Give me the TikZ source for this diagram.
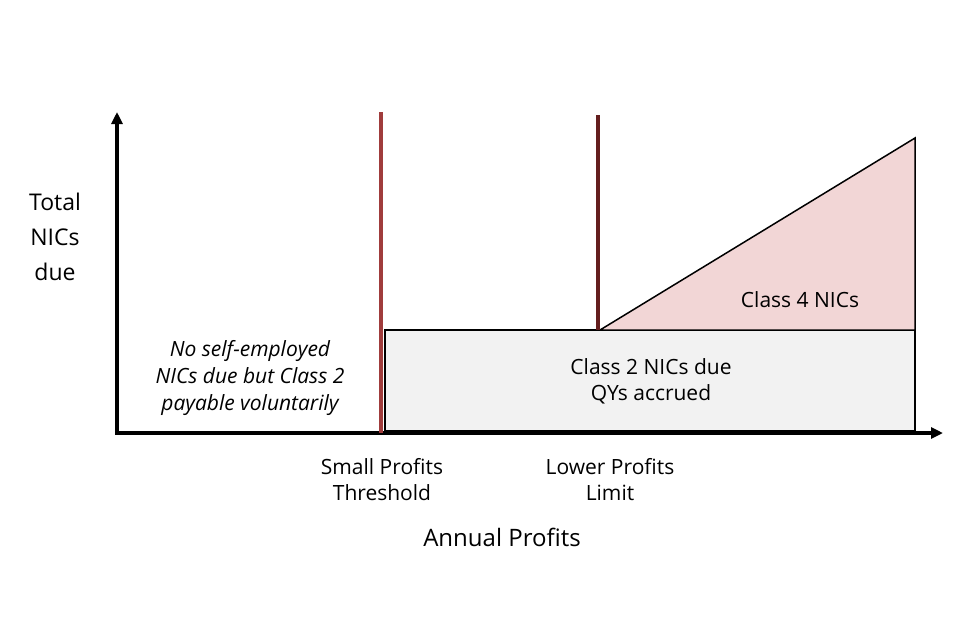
\documentclass[tikz,border=0pt]{standalone}
\usepackage{fontspec}
\setmainfont{Open Sans}
\usetikzlibrary{arrows.meta}
\definecolor{sptred}{RGB}{160,60,60}
\definecolor{lpldark}{RGB}{100,30,30}
\definecolor{pinkfill}{RGB}{242,214,214}
\begin{document}
\begin{tikzpicture}[x=1pt,y=-1pt,
  lbl/.style={align=center,font=\fontsize{21}{26}\selectfont},
  axis/.style={line width=3.5pt,-{Triangle[length=12pt,width=11pt]}}]
\useasboundingbox (0,0) rectangle (960,640);
\coordinate (o) at (117,433);
\coordinate (ytop) at (117,112);
\coordinate (xend) at (943,433);
\coordinate (b1) at (385,330); \coordinate (b2) at (915,431);
\coordinate (t1) at (600,330); \coordinate (t2) at (915,138); \coordinate (t3) at (915,330);
\draw[fill=gray!10,line width=2pt] (b1) rectangle (b2);
\draw[fill=pinkfill,line width=1.5pt,line join=miter] (t1) -- (t2) -- (t3) -- cycle;
\draw[axis] (o) -- (ytop);
\draw[axis] (115,433) -- (xend);
\coordinate (s1) at (381,112); \coordinate (s2) at (381,433);
\coordinate (l1) at (598,115); \coordinate (l2) at (598,330);
\draw[line width=4.5pt,sptred] (s1) -- (s2);
\draw[line width=4.5pt,lpldark] (l1) -- (l2);
\node[lbl,font=\fontsize{23}{35}\selectfont] (ttl) at (55,237) {Total\\NICs\\due};
\node[lbl] (c4) at (800,300) {Class 4 NICs};
\node[lbl] (c2) at (651,381) {Class 2 NICs due\\QYs accrued};
\node[lbl,font=\itshape\fontsize{21}{27}\selectfont] (no) at (250,378) {No self-employed\\NICs due but Class 2\\payable voluntarily};
\node[lbl] (spt) at (382,480) {Small Profits\\Threshold};
\node[lbl] (lpl) at (610,480) {Lower Profits\\Limit};
\node[lbl,font=\fontsize{24}{28}\selectfont] (ap) at (502,537) {Annual Profits};
\end{tikzpicture}
\end{document}
